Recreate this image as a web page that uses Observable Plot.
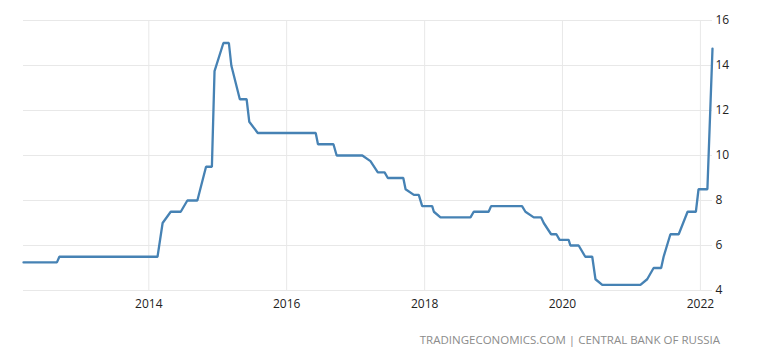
<!DOCTYPE html>
<html>
<head>
<meta charset="utf-8">
<script src="https://cdn.jsdelivr.net/npm/d3@7"></script>
<script src="https://cdn.jsdelivr.net/npm/@observablehq/plot@0.6"></script>
<style>
  html, body { margin: 0; padding: 0; background: #fff; }
  #chart { width: 768px; height: 358px; position: relative; overflow: hidden; }
  #caption { position: absolute; right: 48px; top: 332px; font: 11.5px "Open Sans", sans-serif; color: #8c8c8c; line-height: 16px; white-space: nowrap; }
</style>
</head>
<body>
<div id="chart"></div>
<script>
const dates = ["2012-03-08","2012-09-01","2012-09-14","2014-02-16","2014-03-15","2014-04-27","2014-06-19","2014-07-24","2014-09-15","2014-10-31","2014-12-01","2014-12-15","2015-01-31","2015-03-01","2015-03-14","2015-04-28","2015-06-03","2015-06-17","2015-08-01","2016-06-03","2016-06-15","2016-09-05","2016-09-22","2017-02-05","2017-03-20","2017-04-28","2017-06-03","2017-06-20","2017-09-10","2017-09-22","2017-11-05","2017-12-01","2017-12-19","2018-02-10","2018-02-19","2018-03-26","2018-09-01","2018-09-18","2018-12-06","2018-12-19","2019-06-01","2019-06-19","2019-08-02","2019-09-10","2019-09-24","2019-11-02","2019-11-30","2019-12-17","2020-02-03","2020-02-12","2020-03-27","2020-05-01","2020-06-07","2020-06-24","2020-07-30","2021-02-17","2021-03-25","2021-04-28","2021-06-07","2021-06-20","2021-07-26","2021-09-08","2021-10-25","2021-12-08","2021-12-22","2022-02-07","2022-03-06"];
const rates = [5.25,5.25,5.5,5.5,7,7.5,7.5,8,8,9.5,9.5,13.75,15,15,14,12.5,12.5,11.5,11,11,10.5,10.5,10,10,9.75,9.25,9.25,9,9,8.5,8.25,8.25,7.75,7.75,7.5,7.25,7.25,7.5,7.5,7.75,7.75,7.5,7.25,7.25,7,6.5,6.5,6.25,6.25,6,6,5.5,5.5,4.5,4.25,4.25,4.5,5,5,5.5,6.5,6.5,7.5,7.5,8.5,8.5,14.75];
const yTicks = [4, 6, 8, 10, 12, 14, 16];
const xTickYears = [2014, 2016, 2018, 2020, 2022];
const caption = "TRADINGECONOMICS.COM | CENTRAL BANK OF RUSSIA";

const data = dates.map((d, i) => ({date: new Date(d + "T00:00:00Z"), value: rates[i]}));
const xTicks = xTickYears.map(y => new Date(Date.UTC(y, 0, 1)));

const chart = Plot.plot({
  width: 768,
  height: 318,
  marginLeft: 23,
  marginRight: 56,
  marginTop: 20,
  marginBottom: 28,
  style: {fontFamily: "'Open Sans', sans-serif", fontSize: "12px", color: "#222", background: "#fff"},
  x: {type: "utc", domain: [data[0].date, data[data.length - 1].date]},
  y: {domain: [4, 16]},
  marks: [
    Plot.ruleY(yTicks, {stroke: "#e8e8e8", strokeWidth: 1}),
    Plot.ruleX(xTicks, {stroke: "#e8e8e8", strokeWidth: 1}),
    Plot.axisX(xTicks, {tickSize: 0, tickPadding: 9, tickFormat: d3.utcFormat("%Y"), label: null, fill: "#222"}),
    Plot.axisY(yTicks, {anchor: "right", tickSize: 0, tickPadding: 3, textAnchor: "start", label: null, fill: "#222"}),
    Plot.line(data, {x: "date", y: "value", stroke: "#4682b4", strokeWidth: 2.3, strokeLinejoin: "miter", curve: "linear"})
  ]
});
const host = document.getElementById("chart");
host.appendChild(chart);
const cap = document.createElement("div");
cap.id = "caption";
cap.textContent = caption;
host.appendChild(cap);
</script>
</body>
</html>
